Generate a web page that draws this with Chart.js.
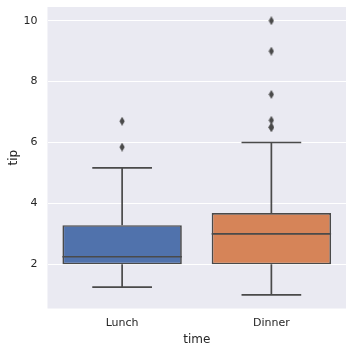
<!DOCTYPE html>
<html>
<head>
<meta charset="utf-8">
<script src="https://cdn.jsdelivr.net/npm/chart.js@4/dist/chart.umd.min.js"></script>
<style>
html,body{margin:0;padding:0;background:#fff;}
#c{display:block;}
</style>
</head>
<body>
<canvas id="c" width="352" height="352"></canvas>
<script>
const categories = ['Lunch', 'Dinner'];
const whiskerLow = [1.25, 1.0];
const q1 = [2.0, 2.0];
const median = [2.25, 3.0];
const q3 = [3.2875, 3.6875];
const whiskerHigh = [5.17, 6.0];
const lunchOutliers = [5.85, 6.7];
const dinnerOutliers = [6.5, 6.5, 6.73, 7.58, 9.0, 10.0];
const yTicks = [2, 4, 6, 8, 10];
const boxColors = ['#5072AC', '#D68458'];
const lineColor = '#4A4A4A';

// thin diamond marker
const marker = document.createElement('canvas');
marker.width = 6; marker.height = 9;
(function(){
  const g = marker.getContext('2d');
  g.fillStyle = lineColor;
  g.beginPath();
  g.moveTo(3, 0); g.lineTo(5.6, 4.5); g.lineTo(3, 9); g.lineTo(0.4, 4.5); g.closePath();
  g.fill();
})();

const outlierPoints = [];
lunchOutliers.forEach(v => outlierPoints.push({x: 'Lunch', y: v}));
dinnerOutliers.forEach(v => outlierPoints.push({x: 'Dinner', y: v}));

const bgPlugin = {
  id: 'bg',
  beforeDraw(chart) {
    const a = chart.chartArea, ctx = chart.ctx;
    ctx.save();
    ctx.fillStyle = '#EAEAF2';
    ctx.fillRect(a.left, a.top, a.right - a.left, a.bottom - a.top);
    ctx.restore();
  }
};

const whiskerPlugin = {
  id: 'whiskers',
  afterDatasetsDraw(chart) {
    const ctx = chart.ctx;
    const xs = chart.scales.x, ys = chart.scales.y;
    const meta = chart.getDatasetMeta(0);
    ctx.save();
    ctx.strokeStyle = lineColor;
    ctx.lineWidth = 1.7;
    categories.forEach((c, i) => {
      const cx = xs.getPixelForValue(i);
      const hw = meta.data[i].width / 2;
      const capw = hw / 2;
      const yq1 = ys.getPixelForValue(q1[i]);
      const yq3 = ys.getPixelForValue(q3[i]);
      const ylo = ys.getPixelForValue(whiskerLow[i]);
      const yhi = ys.getPixelForValue(whiskerHigh[i]);
      const ym = ys.getPixelForValue(median[i]);
      ctx.beginPath();
      ctx.moveTo(cx, yq1); ctx.lineTo(cx, ylo);
      ctx.moveTo(cx - capw, ylo); ctx.lineTo(cx + capw, ylo);
      ctx.moveTo(cx, yq3); ctx.lineTo(cx, yhi);
      ctx.moveTo(cx - capw, yhi); ctx.lineTo(cx + capw, yhi);
      ctx.moveTo(cx - hw, ym); ctx.lineTo(cx + hw, ym);
      ctx.stroke();
    });
    ctx.restore();
  }
};

new Chart(document.getElementById('c'), {
  type: 'bar',
  data: {
    labels: categories,
    datasets: [
      {
        type: 'bar',
        data: categories.map((c, i) => [q1[i], q3[i]]),
        backgroundColor: boxColors,
        borderColor: lineColor,
        borderWidth: 1.7,
        borderSkipped: false,
        barPercentage: 0.8,
        categoryPercentage: 1.0,
        order: 2
      },
      {
        type: 'scatter',
        data: outlierPoints,
        pointStyle: marker,
        pointRadius: 4,
        showLine: false,
        order: 1
      }
    ]
  },
  options: {
    responsive: false,
    animation: false,
    devicePixelRatio: 1,
    layout: {padding: {left: 0, right: 6, top: 7, bottom: 0}},
    plugins: {legend: {display: false}, tooltip: {enabled: false}},
    scales: {
      x: {
        type: 'category',
        offset: true,
        grid: {display: false, drawTicks: false},
        border: {display: false},
        ticks: {color: '#262626', font: {family: 'DejaVu Sans', size: 11}, padding: 8},
        title: {display: true, text: 'time', color: '#262626', font: {family: 'DejaVu Sans', size: 12}, padding: {top: 2, bottom: 5}},
        afterFit(s) { s.height = 43.5; s.paddingLeft = 0; s.paddingRight = 0; }
      },
      y: {
        type: 'linear',
        min: 0.55,
        max: 10.45,
        afterBuildTicks(s) { s.ticks = yTicks.map(v => ({value: v})); },
        grid: {color: '#FFFFFF', lineWidth: 1, drawTicks: false},
        border: {display: false},
        ticks: {color: '#262626', font: {family: 'DejaVu Sans', size: 11}, padding: 10},
        title: {display: true, text: 'tip', color: '#262626', font: {family: 'DejaVu Sans', size: 12}, padding: {top: 7, bottom: 4}},
        afterFit(s) { s.width = 47.5; s.paddingTop = 0; s.paddingBottom = 0; }
      }
    }
  },
  plugins: [bgPlugin, whiskerPlugin]
});
</script>
</body>
</html>
